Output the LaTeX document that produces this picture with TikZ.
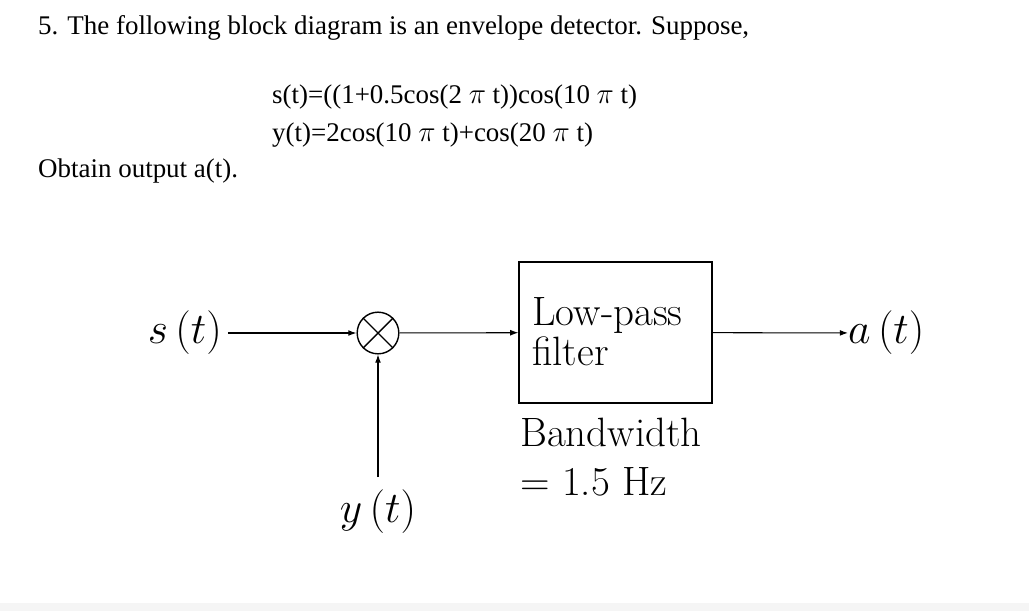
\documentclass[tikz,border=0pt]{standalone}
\usepackage{fontspec}
\usepackage{graphicx}
\newfontfamily\tnr{Liberation Serif}
\usetikzlibrary{arrows.meta}
\begin{document}
\begin{tikzpicture}[x=0.03cm,y=-0.03cm,
  txt/.style={font=\tnr\fontsize{23}{26}\selectfont,anchor=west,inner sep=0},
  lm/.style={font=\fontsize{35}{40}\selectfont,inner sep=0},
  conn/.style={line width=0.9pt,-{Latex[length=7pt,width=5pt]}}]
\useasboundingbox (0,0) rectangle (1029,611);
\fill[gray!8] (0,603) rectangle (1029,611);
\node[txt] (t1) at (38,28) {5. The following block diagram is an envelope detector. Suppose,};
\node[txt] (t2) at (272,97) {s(t)=((1+0.5cos(2 $\pi$ t))cos(10 $\pi$ t)};
\node[txt] (t3) at (272,135) {y(t)=2cos(10 $\pi$ t)+cos(20 $\pi$ t)};
\node[txt] (t4) at (38,171) {Obtain output a(t).};
\node[lm,anchor=east] (s) at (222,333) {\scalebox{1.5}{$s\,(t)$}};
\node[draw,circle,line width=1.2pt,minimum size=1.25cm,inner sep=0] (m) at (378,333) {};
\draw[line width=1.2pt] (m.north west)--(m.south east) (m.north east)--(m.south west);
\node[draw,line width=1pt,minimum width=5.79cm,minimum height=4.23cm,inner sep=0] (f) at (615.5,332.5) {};
\node[lm,anchor=west,align=left] (fl) at (532,332) {Low-pass\\[-6pt]filter};
\node[lm,anchor=west] (a) at (848,333) {\scalebox{1.5}{$a\,(t)$}};
\node[lm] (y) at (378,512) {\scalebox{1.5}{$y\,(t)$}};
\coordinate (yt) at (378,477);
\node[lm,anchor=west,align=left] (bw) at (520,457) {Bandwidth\\[2pt]= 1.5 Hz};
\draw[conn,shorten <=5pt] (s) -- (m);
\draw[conn] (m) -- (f);
\draw[conn] (f) -- (a);
\draw[conn] (yt) -- (m);
\end{tikzpicture}
\end{document}
